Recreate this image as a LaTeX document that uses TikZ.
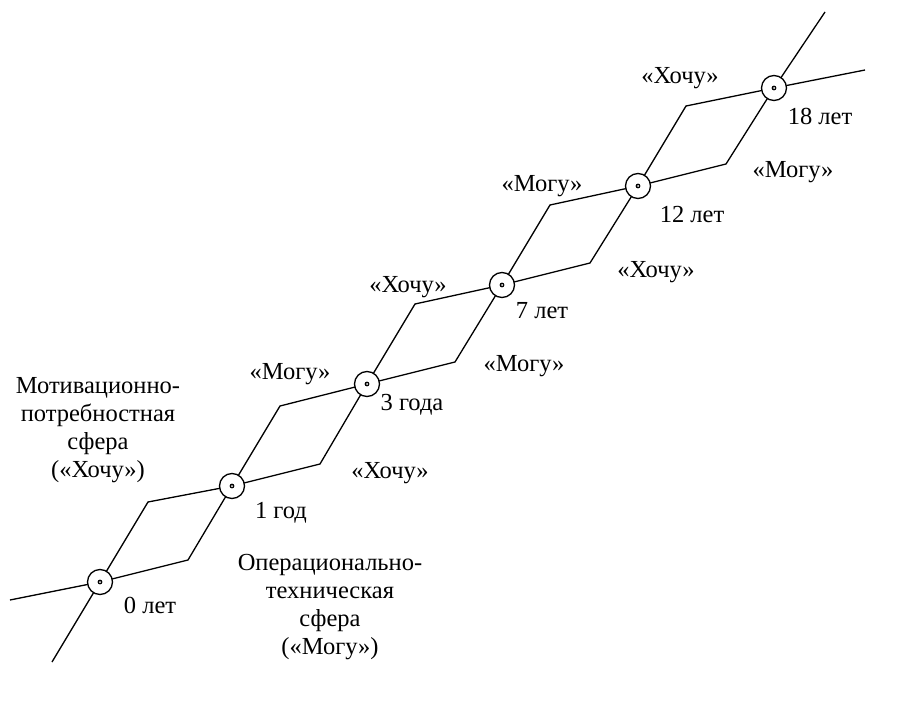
\documentclass[tikz,border=0pt]{standalone}
\usepackage{fontspec}
\setmainfont{Liberation Serif}
\begin{document}
\begin{tikzpicture}[x=1pt,y=-1pt,line width=1.3pt,
  lbl/.style={font=\fontsize{24.5}{28}\selectfont,inner sep=1pt,align=center},
  ring/.style={circle,draw,fill=white,minimum size=25pt,inner sep=0pt}]
\useasboundingbox (0,0) rectangle (900,701);
\foreach \i/\x/\y in {0/100/582,1/232/486,2/367/384,3/502/285,4/638/186,5/774/88}
  \coordinate (c\i) at (\x,\y);
\coordinate (e0a) at (52,662);
\coordinate (e0b) at (10,600);
\coordinate (e5a) at (825,12);
\coordinate (e5b) at (865,70);
\draw (e0a) -- (c0) (e0b) -- (c0) (c5) -- (e5a) (c5) -- (e5b);
\foreach \i/\j in {0/1,1/2,2/3,3/4,4/5}{
  \draw (c\i) -- ++(48,-80) coordinate (u\i) -- (c\j);
  \draw (c\i) -- ++(88,-22) coordinate (d\i) -- (c\j);
}
\foreach \i in {0,...,5}{
  \node[ring] (r\i) at (c\i) {};
  \fill (c\i) circle (2.4pt);
  \fill[white] (c\i) circle (1pt);
}
\node[lbl] (m0) at (98,430) {Мотивационно-\\потребностная\\сфера\\(«Хочу»)};
\node[lbl] (o0) at (330,607) {Операционально-\\техническая\\сфера\\(«Могу»)};
\node[lbl] (a1) at (290,374) {«Могу»};
\node[lbl] (b1) at (390,473) {«Хочу»};
\node[lbl] (a2) at (408,287) {«Хочу»};
\node[lbl] (b2) at (524,366) {«Могу»};
\node[lbl] (a3) at (542,186) {«Могу»};
\node[lbl] (b3) at (656,272) {«Хочу»};
\node[lbl] (a4) at (680,78) {«Хочу»};
\node[lbl] (b4) at (793,172) {«Могу»};
\node[lbl] (t0) at (150,605) {0 лет};
\node[lbl] (t1) at (281,513) {1 год};
\node[lbl] (t2) at (412,405) {3 года};
\node[lbl] (t3) at (542,311) {7 лет};
\node[lbl] (t4) at (692,215) {12 лет};
\node[lbl] (t5) at (820,116) {18 лет};
\end{tikzpicture}
\end{document}
